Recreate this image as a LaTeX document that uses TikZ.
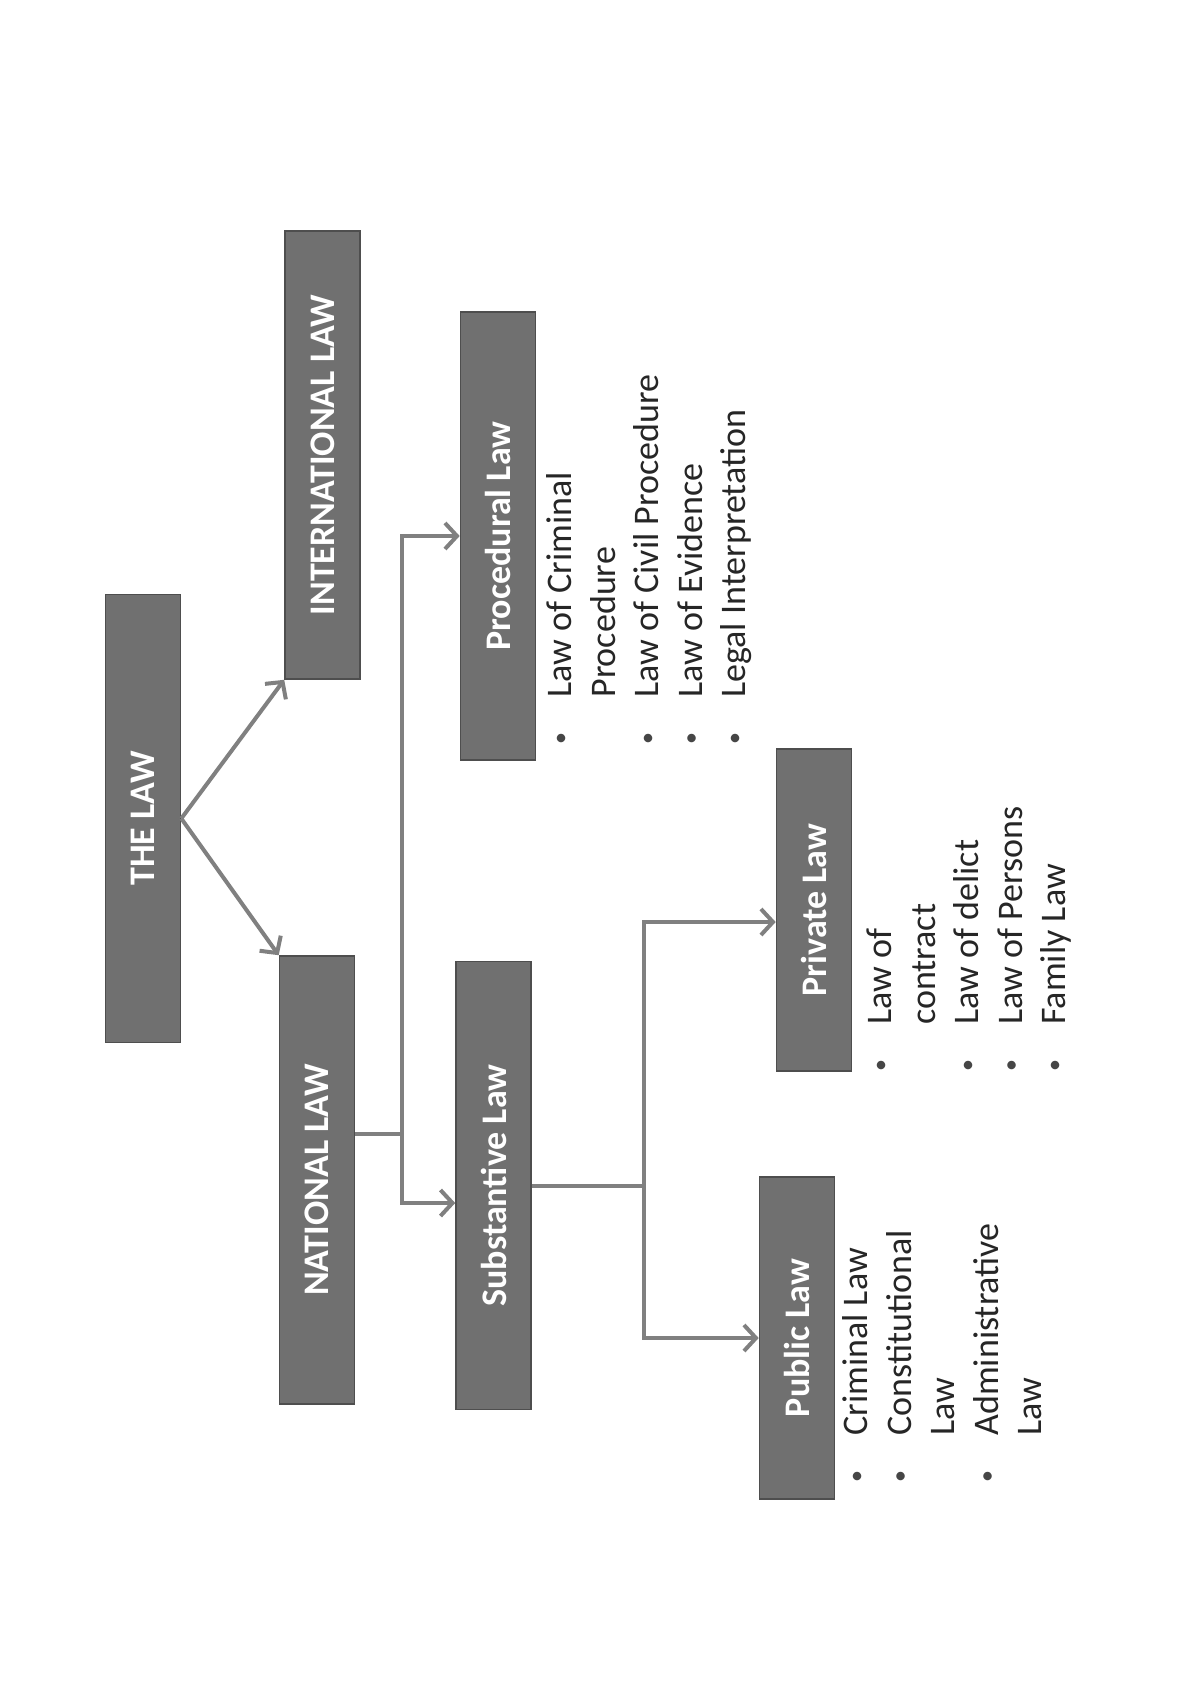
\documentclass[tikz,border=0pt]{standalone}
\usepackage{fontspec}
\setmainfont{Carlito}
\usepackage{xcolor}
\usetikzlibrary{positioning, arrows.meta}

\definecolor{boxgray}{RGB}{112,112,112}
\definecolor{boxedge}{RGB}{78,78,78}
\definecolor{linegray}{RGB}{128,128,128}
\definecolor{dotgray}{RGB}{70,70,70}

\newcommand{\lawdot}{\makebox[9pt]{\raisebox{2pt}{\fontsize{12}{12}\selectfont\color{dotgray}\textbullet}}}
\newcommand{\lawitems}[1]{\begin{tabular}{@{}l@{\hspace{16pt}}l@{}}#1\end{tabular}}

\begin{document}
\begin{tikzpicture}[
        x=0.5pt, y=0.5pt,
        >={Straight Barb[length=6pt,width=13pt]},
        lawbox/.style={rectangle, rotate=90, fill=boxgray, draw=boxedge,
            line width=0.8pt, text=white, inner sep=0pt,
            font=\fontsize{18}{21.75}\selectfont\bfseries,
            minimum height=37.5pt, minimum width=224pt},
        shortbox/.style={lawbox, minimum width=161pt},
        link/.style={draw=linegray, line width=2pt},
        lawlist/.style={rotate=90, anchor=north west, inner sep=0pt,
            text=black!85, font=\fontsize{18}{21.75}\selectfont}
    ]
    \fill[white] (0,0) rectangle (1200,-1696);
    \useasboundingbox (0,0) rectangle (1200,-1696);

    % boxes
    \node[lawbox] (law) at (143,-818.5) {THE LAW};
    \node[lawbox] (intl) at (322.5,-455) {INTERNATIONAL LAW};
    \node[lawbox] (nat) at (317,-1180) {NATIONAL LAW};
    \node[lawbox] (proc) at (498,-536) {Procedural Law};
    \node[lawbox] (subst) at (493.5,-1185.5) {Substantive Law};
    \node[shortbox] (priv) at (814,-910) {Private Law};
    \node[shortbox] (pub) at (797,-1338) {Public Law};

    % forks
    \coordinate (natfork) at (402,-1134);
    \coordinate (subfork) at (644,-1185.5);

    % connectors
    \draw[link,->] (law.south) -- (intl.north west);
    \draw[link,->] (law.south) -- (nat.north east);

    \draw[link] (nat.south |- natfork) -- (natfork);
    \draw[link,->] (natfork) |- (proc.north);
    \draw[link,->] (natfork) |- ([yshift=-8.75pt]subst.north);

    \draw[link] (subst.south) -- (subfork);
    \draw[link,->] (subfork) |- ([yshift=-6pt]priv.north);
    \draw[link,->] (subfork) |- (pub.north);

    % lists
    \node[lawlist] (proclist) at (541,-748) {\lawitems{
        \lawdot & Law of Criminal\\
                & Procedure\\
        \lawdot & Law of Civil Procedure\\
        \lawdot & Law of Evidence\\
        \lawdot & Legal Interpretation}};
    \node[lawlist] (privlist) at (861,-1075) {\lawitems{
        \lawdot & Law of\\
                & contract\\
        \lawdot & Law of delict\\
        \lawdot & Law of Persons\\
        \lawdot & Family Law}};
    \node[lawlist] (publist) at (837,-1486) {\lawitems{
        \lawdot & Criminal Law\\
        \lawdot & Constitutional\\
                & Law\\
        \lawdot & Administrative\\
                & Law}};
\end{tikzpicture}
\end{document}
